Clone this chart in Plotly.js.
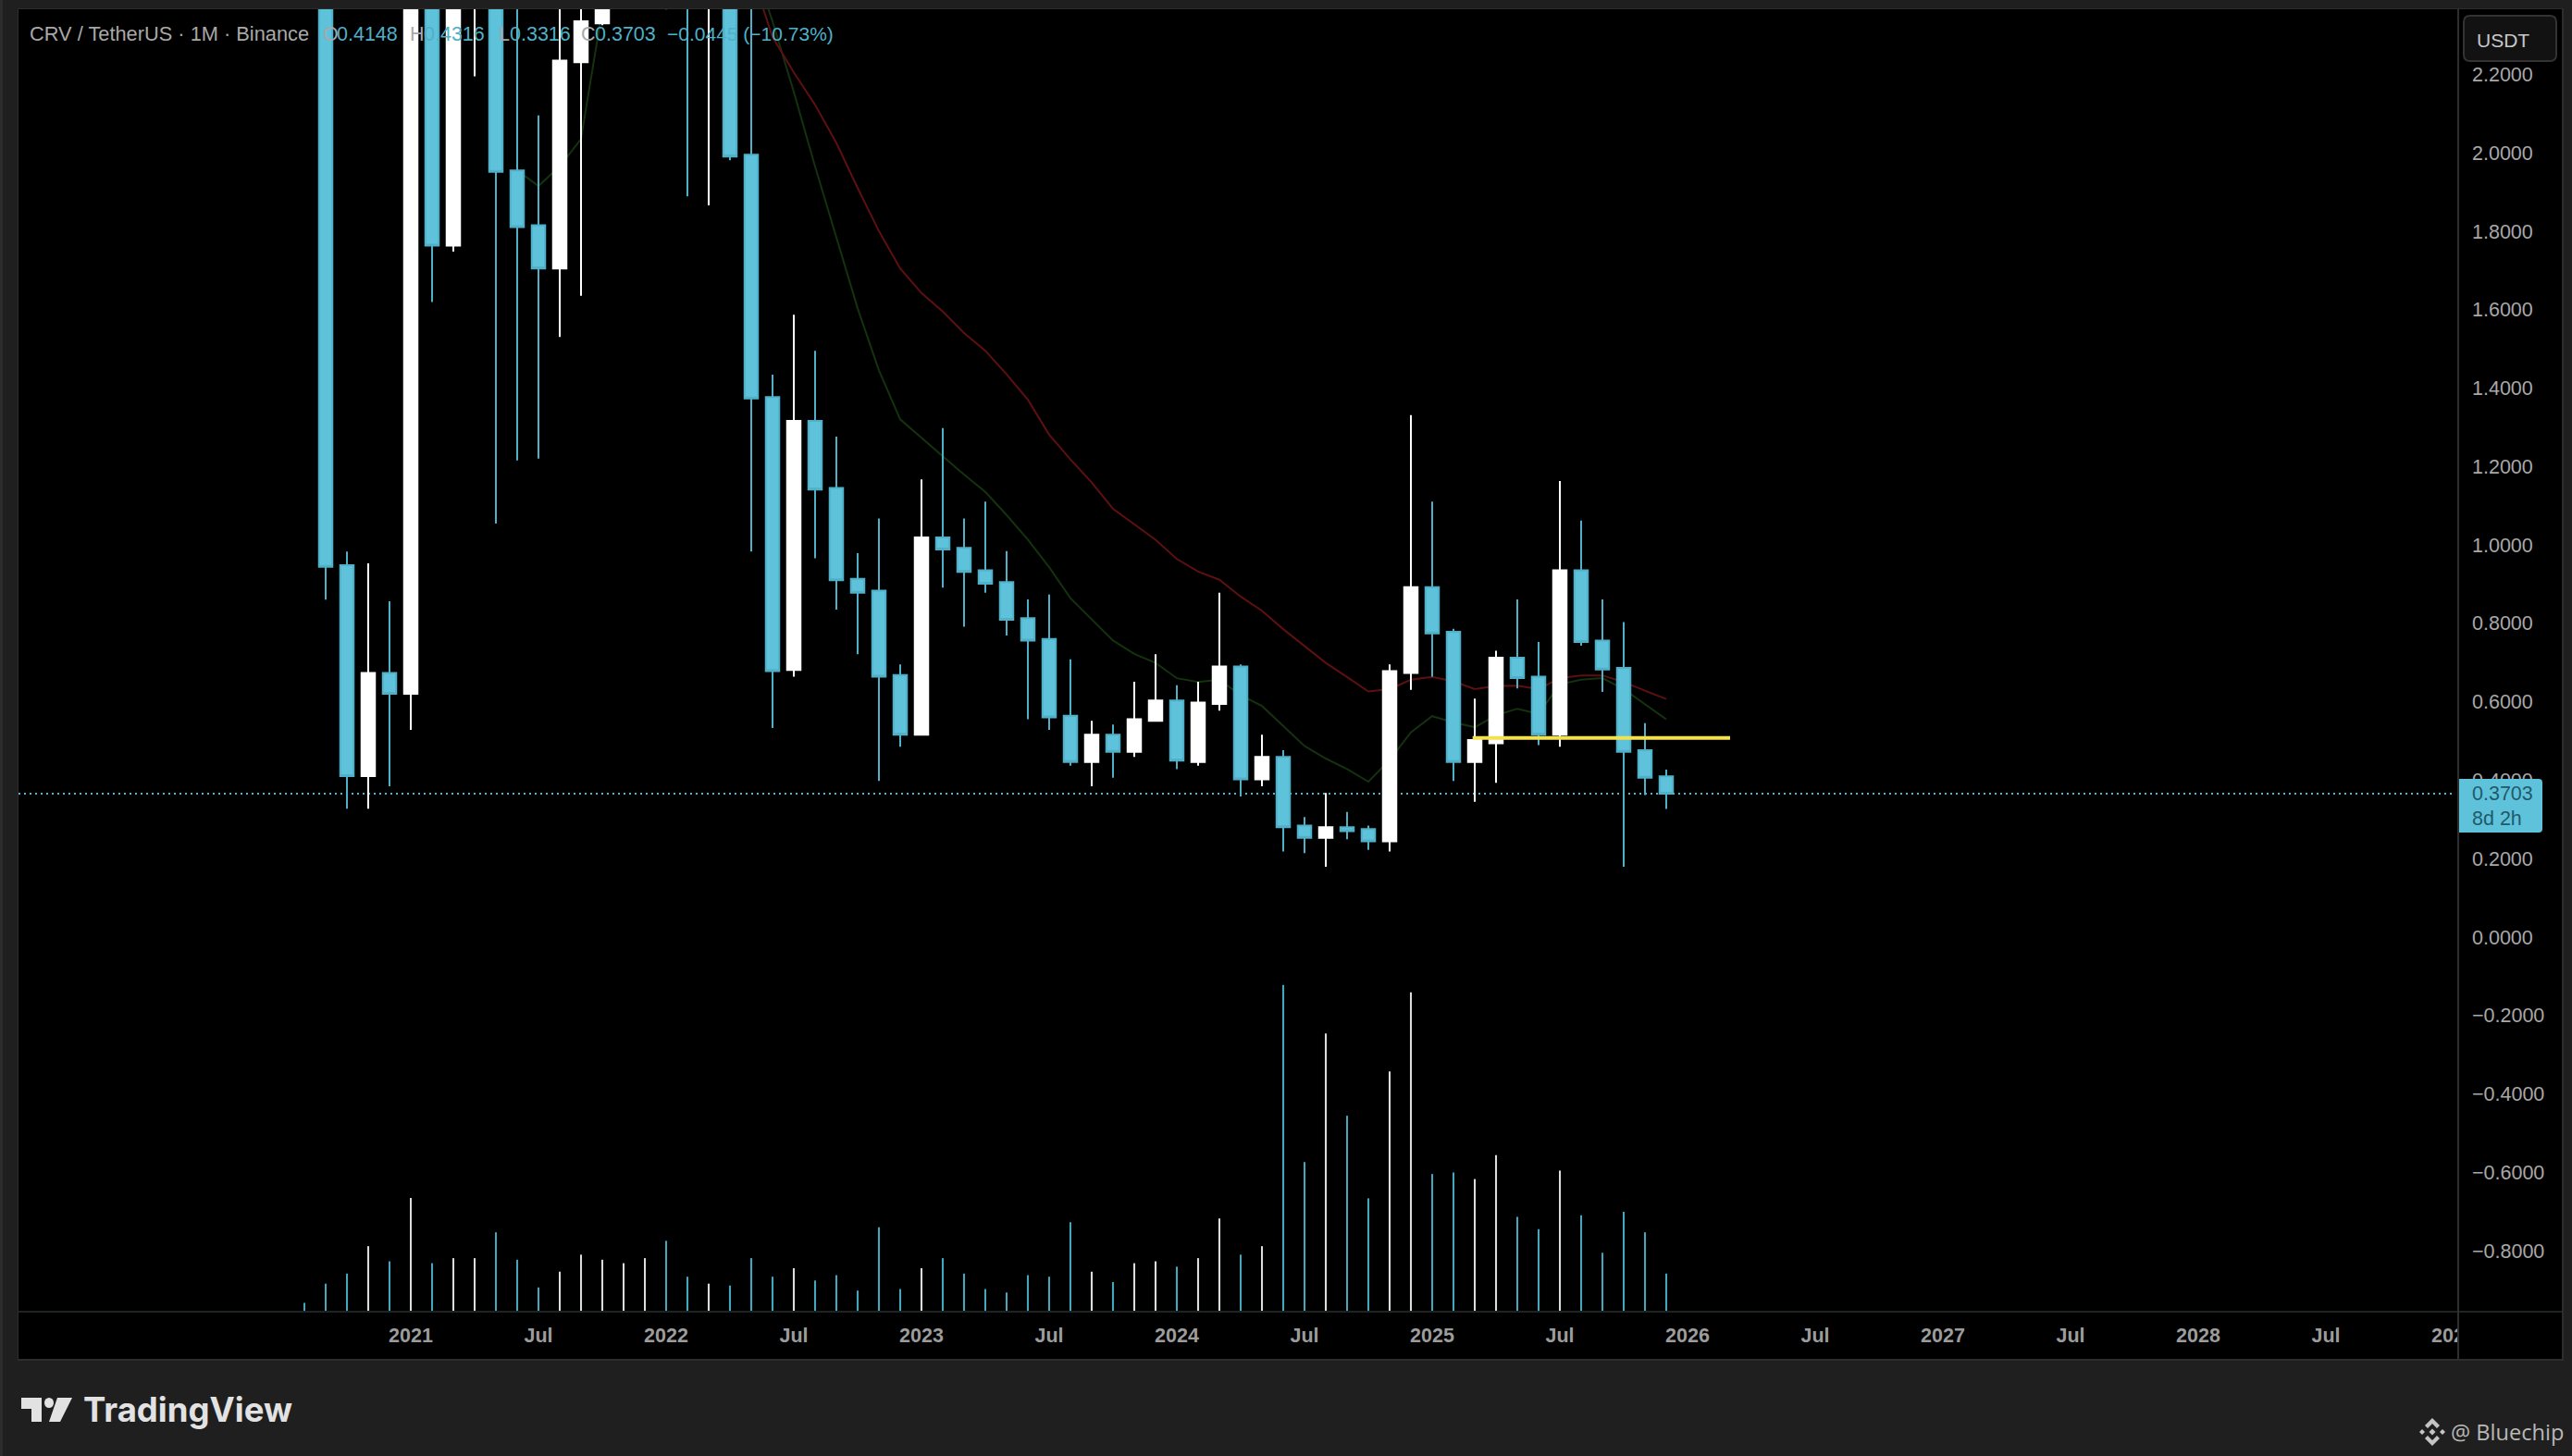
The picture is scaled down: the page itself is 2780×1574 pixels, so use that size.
<!DOCTYPE html>
<html><head><meta charset="utf-8">
<script src="https://cdn.plot.ly/plotly-3.0.1.min.js"></script>
<style>html,body{margin:0;padding:0;background:#1f1f1f}#c{width:2780px;height:1574px}</style>
</head><body><div id="c"></div>
<script>
const months=['2020-08','2020-09','2020-10','2020-11','2020-12',
'2021-01','2021-02','2021-03','2021-04','2021-05','2021-06','2021-07','2021-08','2021-09','2021-10','2021-11','2021-12',
'2022-01','2022-02','2022-03','2022-04','2022-05','2022-06','2022-07','2022-08','2022-09','2022-10','2022-11','2022-12',
'2023-01','2023-02','2023-03','2023-04','2023-05','2023-06','2023-07','2023-08','2023-09','2023-10','2023-11','2023-12',
'2024-01','2024-02','2024-03','2024-04','2024-05','2024-06','2024-07','2024-08','2024-09','2024-10','2024-11','2024-12',
'2025-01','2025-02','2025-03','2025-04','2025-05','2025-06','2025-07','2025-08','2025-09','2025-10','2025-11','2025-12'];
const open=[6.0,3.3,.953,.415,.678,
.625,2.55,1.768,2.9,3.0,1.96,1.82,1.71,2.236,2.335,3.6,4.9,
5.3,3.0,2.4,2.85,2.0,1.382,.686,1.321,1.150,.918,.888,.673,
.521,1.024,.997,.940,.910,.818,.765,.569,.451,.521,.477,.556,
.608,.451,.599,.695,.407,.464,.289,.258,.285,.280,.249,.678,
.897,.783,.451,.499,.717,.669,.521,.940,.761,.691,.481,.4148];
const high=[15,3.6,.988,.958,.861,
2.9,3.0,3.4,3.9,6.0,3.0,2.10,2.6,2.9,4.0,6.0,6.8,
6.9,3.5,3.0,3.1,2.6,1.439,1.592,1.50,1.281,.984,1.072,.700,
1.172,1.303,1.072,1.115,.989,.866,.878,.713,.556,.547,.656,.726,
.647,.656,.883,.700,.521,.481,.311,.372,.324,.289,.700,1.336,
1.115,.791,.613,.735,.866,.757,1.168,1.067,.866,.808,.550,.4316];
const low=[2.9,.865,.332,.332,.389,
.533,1.624,1.753,2.20,1.059,1.22,1.225,1.535,1.64,2.33,3.2,3.6,
2.37,1.894,1.871,1.986,.988,.538,.6685,.971,.840,.726,.403,.490,
.521,.896,.796,.883,.774,.560,.533,.442,.389,.411,.464,.556,
.433,.442,.582,.363,.389,.223,.219,.184,.254,.227,.223,.635,
.669,.403,.350,.398,.639,.494,.490,.748,.630,.184,.367,.3316];
const close=[3.3,.949,.415,.678,.625,
2.55,1.768,2.9,3.0,1.956,1.815,1.71,2.24,2.34,3.6,4.9,5.3,
3.0,2.4,2.85,1.995,1.378,.683,1.321,1.146,.915,.883,.669,.521,
1.024,.993,.936,.906,.814,.761,.565,.451,.521,.477,.560,.608,
.455,.603,.695,.407,.464,.285,.258,.285,.275,.249,.683,.897,
.779,.451,.507,.717,.665,.521,.940,.757,.687,.477,.411,.3703];
const volume=[28,89,121,208,160,
361,154,170,170,252,165,77,127,181,165,154,170,
225,111,89,83,170,111,138,99,116,67,268,72,
138,170,121,72,61,116,111,284,127,94,154,160,
143,170,296,181,208,1037,475,883,622,360,763,1014,
437,442,421,497,301,262,448,306,187,317,252,121];
const maFast=[null,null,null,null,null,null,null,null,null,null,
1.96,1.92,1.97,2.04,2.37,2.9,3.4,
3.6,3.4,3.1,2.8,2.5,2.34,2.16,1.97,1.79,1.608,1.45,1.325,
1.278,1.231,1.184,1.14,1.081,1.018,.948,.869,.814,.761,.727,.704,
.665,.655,.661,.621,.594,.543,.492,.460,.433,.401,.456,.527,
.568,.552,.540,.570,.587,.574,.649,.661,.665,.637,.598,.560];
const maSlow=[null,null,null,null,null,null,null,null,null,null,null,null,null,null,null,null,null,null,
3.2,3.0,2.75,2.465,2.30,2.21,2.127,2.03,1.915,1.805,1.71,
1.647,1.60,1.545,1.50,1.44,1.375,1.286,1.223,1.164,1.097,1.058,1.018,
.969,.937,.916,.873,.837,.790,.747,.704,.668,.631,.637,.661,
.668,.657,.637,.645,.646,.637,.665,.672,.672,.655,.633,.612];
const xTickVals=[0,6,12,18,24,30,36,42,48,54,60,66,72,78,84,90,96];
const xTickText=['<b>2021</b>','<b>Jul</b>','<b>2022</b>','<b>Jul</b>','<b>2023</b>','<b>Jul</b>','<b>2024</b>','<b>Jul</b>','<b>2025</b>','<b>Jul</b>','<b>2026</b>','<b>Jul</b>','<b>2027</b>','<b>Jul</b>','<b>2028</b>','<b>Jul</b>','<b>2029</b>'];
const yTickVals=[2.2,2.0,1.8,1.6,1.4,1.2,1.0,.8,.6,.4,.2,0,-.2,-.4,-.6,-.8];
const yTickText=['2.2000','2.0000','1.8000','1.6000','1.4000','1.2000','1.0000','0.8000','0.6000','0.4000','0.2000','0.0000','−0.2000','−0.4000','−0.6000','−0.8000'];
const lastPrice=0.3703, levelPrice=0.5124, levelStart=49.9, levelEnd=62;

const BLUE='#5fc2db', WICK='#4fb0c8', WHITE='#ffffff', VBLUE='#45a6be', VWHITE='#dcdcdc', PANEL='#1f1f1f';
const W=2780,H=1574,L=20,R=2657,T=10,B=1418;
const xs=months.map((_,i)=>i-5);
const xRange=[(L-444)/23,(R-444)/23];
const yRange=[(1015-B)/423.9,(1015-T)/423.9];
const px=x=>(x-L)/(R-L), py=y=>(B-y)/(B-T);
function P(cmds){return cmds.map(c=>{const a=c.slice(1);let s=c[0];for(let i=0;i<a.length;i+=2){s+=' '+px(a[i]).toFixed(6)+' '+py(a[i+1]).toFixed(6);}return s;}).join(' ');}
const rect=(x0,y0,x1,y1,fill,layer)=>({type:'rect',xref:'paper',yref:'paper',x0:px(x0),x1:px(x1),y0:py(y0),y1:py(y1),fillcolor:fill,line:{width:0},layer:layer||'above'});
const path=(cmds,fill,line,layer)=>({type:'path',xref:'paper',yref:'paper',path:P(cmds),fillcolor:fill,line:line||{width:0},layer:layer||'above'});
const poly=(pts,fill)=>path(pts.map((p,i)=>[i?'L':'M',p[0],p[1]]).concat([['Z']]),fill);
const rrect=(x0,y0,x1,y1,r,fill,line,rl)=>path([['M',x0+(rl?0:r),y0],['L',x1-r,y0],['Q',x1,y0,x1,y0+r],['L',x1,y1-r],['Q',x1,y1,x1-r,y1],['L',x0+(rl?0:r),y1],rl?['L',x0,y1]:['Q',x0,y1,x0,y1-r],rl?['L',x0,y0]:['L',x0,y0+r],rl?['L',x0,y0]:['Q',x0,y0,x0+r,y0],['Z']],fill,line);
const LOGO='#e2e2e2', BN='#c4c4c4';
const dia=(cx,cy,r,fill)=>poly([[cx,cy-r],[cx+r,cy],[cx,cy+r],[cx-r,cy]],fill);
const bx=2629,by=1548;
const shapes=[
 rect(0,0,2780,1574,PANEL,'below'),
 rect(0,0,3,1574,'#2c2c2c','below'),
 rect(19,9,2771,1471,'#2d2d2d','below'),
 rect(20,10,2769,1469,'#000000','below'),
 {type:'line',xref:'paper',yref:'y',x0:0,x1:px(2650),y0:lastPrice,y1:lastPrice,line:{color:'#4fb6cf',width:2,dash:'2px,4px'},layer:'below'},
 rect(2658,1424,2720,1466,'#000000'),
 rect(20,1417,2769,1419,'#1e2424'),
 rect(2656,10,2658,1469,'#2b2f2f'),
 rrect(2663,17,2763,66,7,'#121212',{color:'#333333',width:2}),
 rrect(2658,842,2748,900,4,BLUE,{width:0},true),
 poly([[23,1511],[45,1511],[45,1537],[34,1537],[34,1523],[23,1523]],LOGO),
 {type:'circle',xref:'paper',yref:'paper',x0:px(48),x1:px(58),y0:py(1511),y1:py(1522),fillcolor:LOGO,line:{width:0},layer:'above'},
 poly([[62,1511],[78,1511],[65,1537],[53,1537]],LOGO),
 poly([[bx,by-15],[bx+8,by-7],[bx+5,by-4],[bx,by-9],[bx-5,by-4],[bx-8,by-7]],BN),
 poly([[bx,by+15],[bx+8,by+7],[bx+5,by+4],[bx,by+9],[bx-5,by+4],[bx-8,by+7]],BN),
 dia(bx,by,3.5,BN),dia(bx-11,by,3,BN),dia(bx+11,by,3,BN)
];
const TXT='#b0b0b0', NUM='#4fb0c8', HEAD='#a8a8a8';
const ann=(x,y,text,size,color,extra)=>Object.assign({xref:'paper',yref:'paper',x:px(x),y:py(y),text,showarrow:false,xanchor:'left',yanchor:'middle',font:{family:'Liberation Sans',size,color},align:'left'},extra||{});
const annotations=[
 ann(30,37,'CRV / TetherUS · 1M · Binance',21.8,HEAD),
 ann(347,37,'O',21.5,HEAD),ann(362,37,'0.4148',21.5,NUM),
 ann(441,37,'H',21.5,HEAD),ann(456,37,'0.4316',21.5,NUM),
 ann(537,37,'L',21.5,HEAD),ann(549,37,'0.3316',21.5,NUM),
 ann(626,37,'C',21.5,HEAD),ann(641,37,'0.3703',21.5,NUM),
 ann(719,37,'−0.0445 (−10.73%)',21,NUM),
 ann(2675,43,'USDT',21,'#c8c8c8'),
 ann(2670,858,'0.3703',21.5,'#1f5a6b'),
 ann(2670,885,'8d 2h',21.5,'#1f5a6b'),
 ann(88,1524,'<b>TradingView</b>',36.5,LOGO,{font:{family:'Inter',size:36.5,color:LOGO}}),
 ann(2647,1548,'@ Bluechip',23.6,'#b8b8b8',{font:{family:'Open Sans',size:23.6,color:'#b8b8b8'}})
];
const data=[
 {type:'scatter',mode:'lines',name:'MA fast',x:xs,y:maFast,line:{color:'#14320e',width:2},hoverinfo:'skip',connectgaps:false},
 {type:'scatter',mode:'lines',name:'MA slow',x:xs,y:maSlow,line:{color:'#5e1010',width:2},hoverinfo:'skip'},
 {type:'candlestick',name:'CRV',x:xs,open,high,low,close,yaxis:'y2',whiskerwidth:0,
  increasing:{line:{color:WHITE,width:2},fillcolor:WHITE},
  decreasing:{line:{color:WICK,width:2},fillcolor:BLUE},hoverinfo:'skip'},
 {type:'scatter',mode:'lines',name:'level',x:[levelStart,levelEnd],y:[levelPrice,levelPrice],yaxis:'y2',line:{color:'#f4e150',width:4},hoverinfo:'skip'},
 {type:'bar',name:'Volume',x:xs,y:volume,yaxis:'y3',width:0.09,marker:{color:close.map((c,i)=>c>=open[i]?VWHITE:VBLUE),line:{width:0}},hoverinfo:'skip'}
];
const layout={
 width:W,height:H,margin:{l:L,r:W-R,t:T,b:H-B,pad:0},paper_bgcolor:PANEL,plot_bgcolor:'#000000',
 showlegend:false,hovermode:false,boxgap:0.37,boxgroupgap:0,dragmode:false,
 font:{family:'Liberation Sans',color:TXT,size:21.5},
 xaxis:{type:'linear',range:xRange,tickmode:'array',tickvals:xTickVals,ticktext:xTickText,ticks:'',showgrid:false,zeroline:false,showline:false,rangeslider:{visible:false},tickfont:{size:21.5,color:'#9c9c9c'},ticklabelstandoff:10,fixedrange:true},
 yaxis:{range:yRange,side:'right',tickmode:'array',tickvals:yTickVals,ticktext:yTickText,ticks:'',showgrid:false,zeroline:false,showline:false,tickfont:{size:21.5,color:'#a8a8a8'},ticklabelstandoff:14,ticklabelshift:-2,fixedrange:true},
 yaxis2:{range:yRange,overlaying:'y',side:'right',showticklabels:false,ticks:'',showgrid:false,zeroline:false,showline:false,fixedrange:true},
 yaxis3:{range:[0,4134],overlaying:'y',side:'right',showticklabels:false,ticks:'',showgrid:false,zeroline:false,showline:false,fixedrange:true},
 shapes,annotations
};
Plotly.newPlot('c',data,layout,{displayModeBar:false,staticPlot:true,responsive:false});
</script></body></html>
